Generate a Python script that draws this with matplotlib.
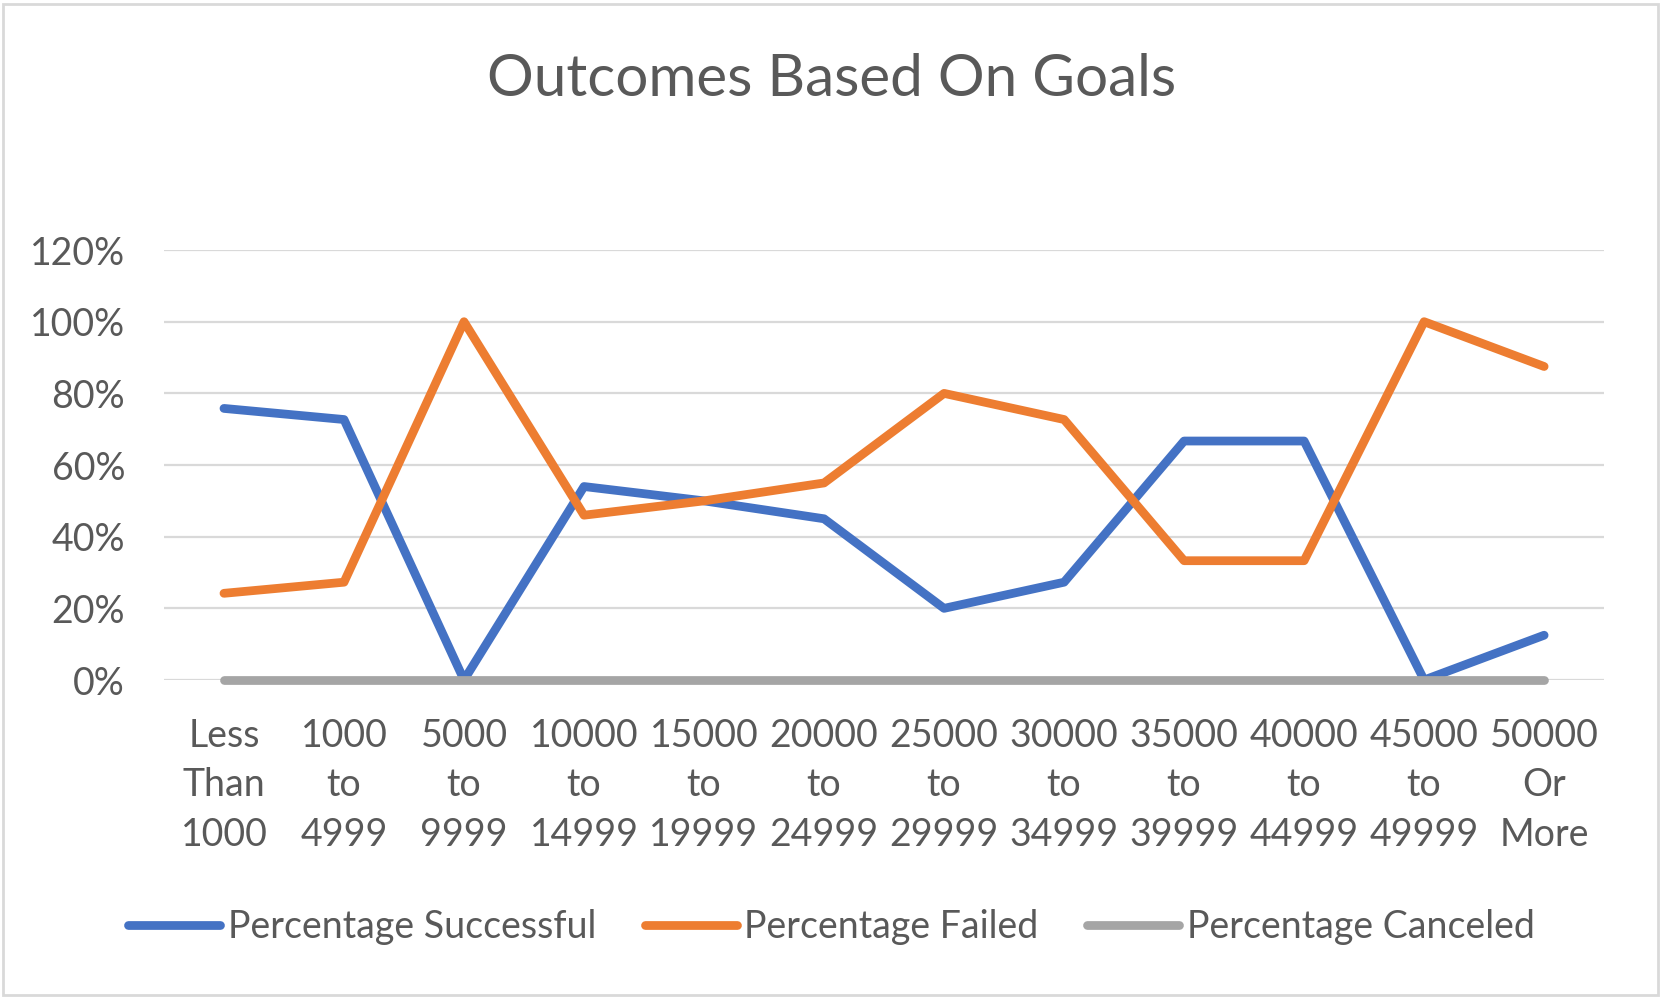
import matplotlib
matplotlib.use('Agg')
import matplotlib.pyplot as plt
from matplotlib.patches import Rectangle
from matplotlib.ticker import PercentFormatter

# values
categories = ['Less\nThan\n1000', '1000\nto\n4999', '5000\nto\n9999', '10000\nto\n14999',
              '15000\nto\n19999', '20000\nto\n24999', '25000\nto\n29999', '30000\nto\n34999',
              '35000\nto\n39999', '40000\nto\n44999', '45000\nto\n49999', '50000\nOr\nMore']
successful = [0.758, 0.727, 0.0, 0.540, 0.500, 0.450, 0.200, 0.273, 0.667, 0.667, 0.0, 0.125]
failed = [0.242, 0.273, 1.0, 0.460, 0.500, 0.550, 0.800, 0.727, 0.333, 0.333, 1.0, 0.875]
canceled = [0.0] * 12

plt.rcParams['font.family'] = ['Lato', 'DejaVu Sans']
textColor = '#595959'

fig = plt.figure(figsize=(16.63, 9.99), dpi=100)
ax = fig.add_axes([0.0986, 0.3193, 0.866, 0.4304])

x = list(range(len(categories)))
lw = 6.3
ax.plot(x, successful, color='#4472C4', lw=lw, solid_capstyle='round', solid_joinstyle='round', label='Percentage Successful')
ax.plot(x, failed, color='#ED7D31', lw=lw, solid_capstyle='round', solid_joinstyle='round', label='Percentage Failed')
ax.plot(x, canceled, color='#A5A5A5', lw=lw, solid_capstyle='round', solid_joinstyle='round', label='Percentage Canceled', clip_on=False)

ax.set_xlim(-0.5, len(categories) - 0.5)
ax.set_ylim(0, 1.2)
ax.set_yticks([i * 0.2 for i in range(7)])
ax.yaxis.set_major_formatter(PercentFormatter(1.0, decimals=0))
ax.set_xticks(x)
ax.set_xticklabels(categories, linespacing=1.47)
ax.grid(axis='y', color='#d9d9d9', lw=1.6)
ax.set_axisbelow(True)
for s in ax.spines.values():
	s.set_visible(False)
ax.tick_params(axis='both', length=0, labelsize=27, labelcolor=textColor)
ax.tick_params(axis='y', pad=28)
ax.tick_params(axis='x', pad=27)

fig.suptitle('Outcomes Based On Goals', fontsize=42, color=textColor, y=0.92, va='center')

fig.legend(loc='center', bbox_to_anchor=(0.5, 0.072), ncol=3, frameon=False, fontsize=27,
	handlelength=2.45, handletextpad=0.2, columnspacing=1.3, labelcolor=textColor)

fig.patches.append(Rectangle((0.002, 0.004), 0.995, 0.992, transform=fig.transFigure,
	fill=False, edgecolor='#d9d9d9', lw=2))

fig.savefig('out.png', dpi=100, facecolor='white')
